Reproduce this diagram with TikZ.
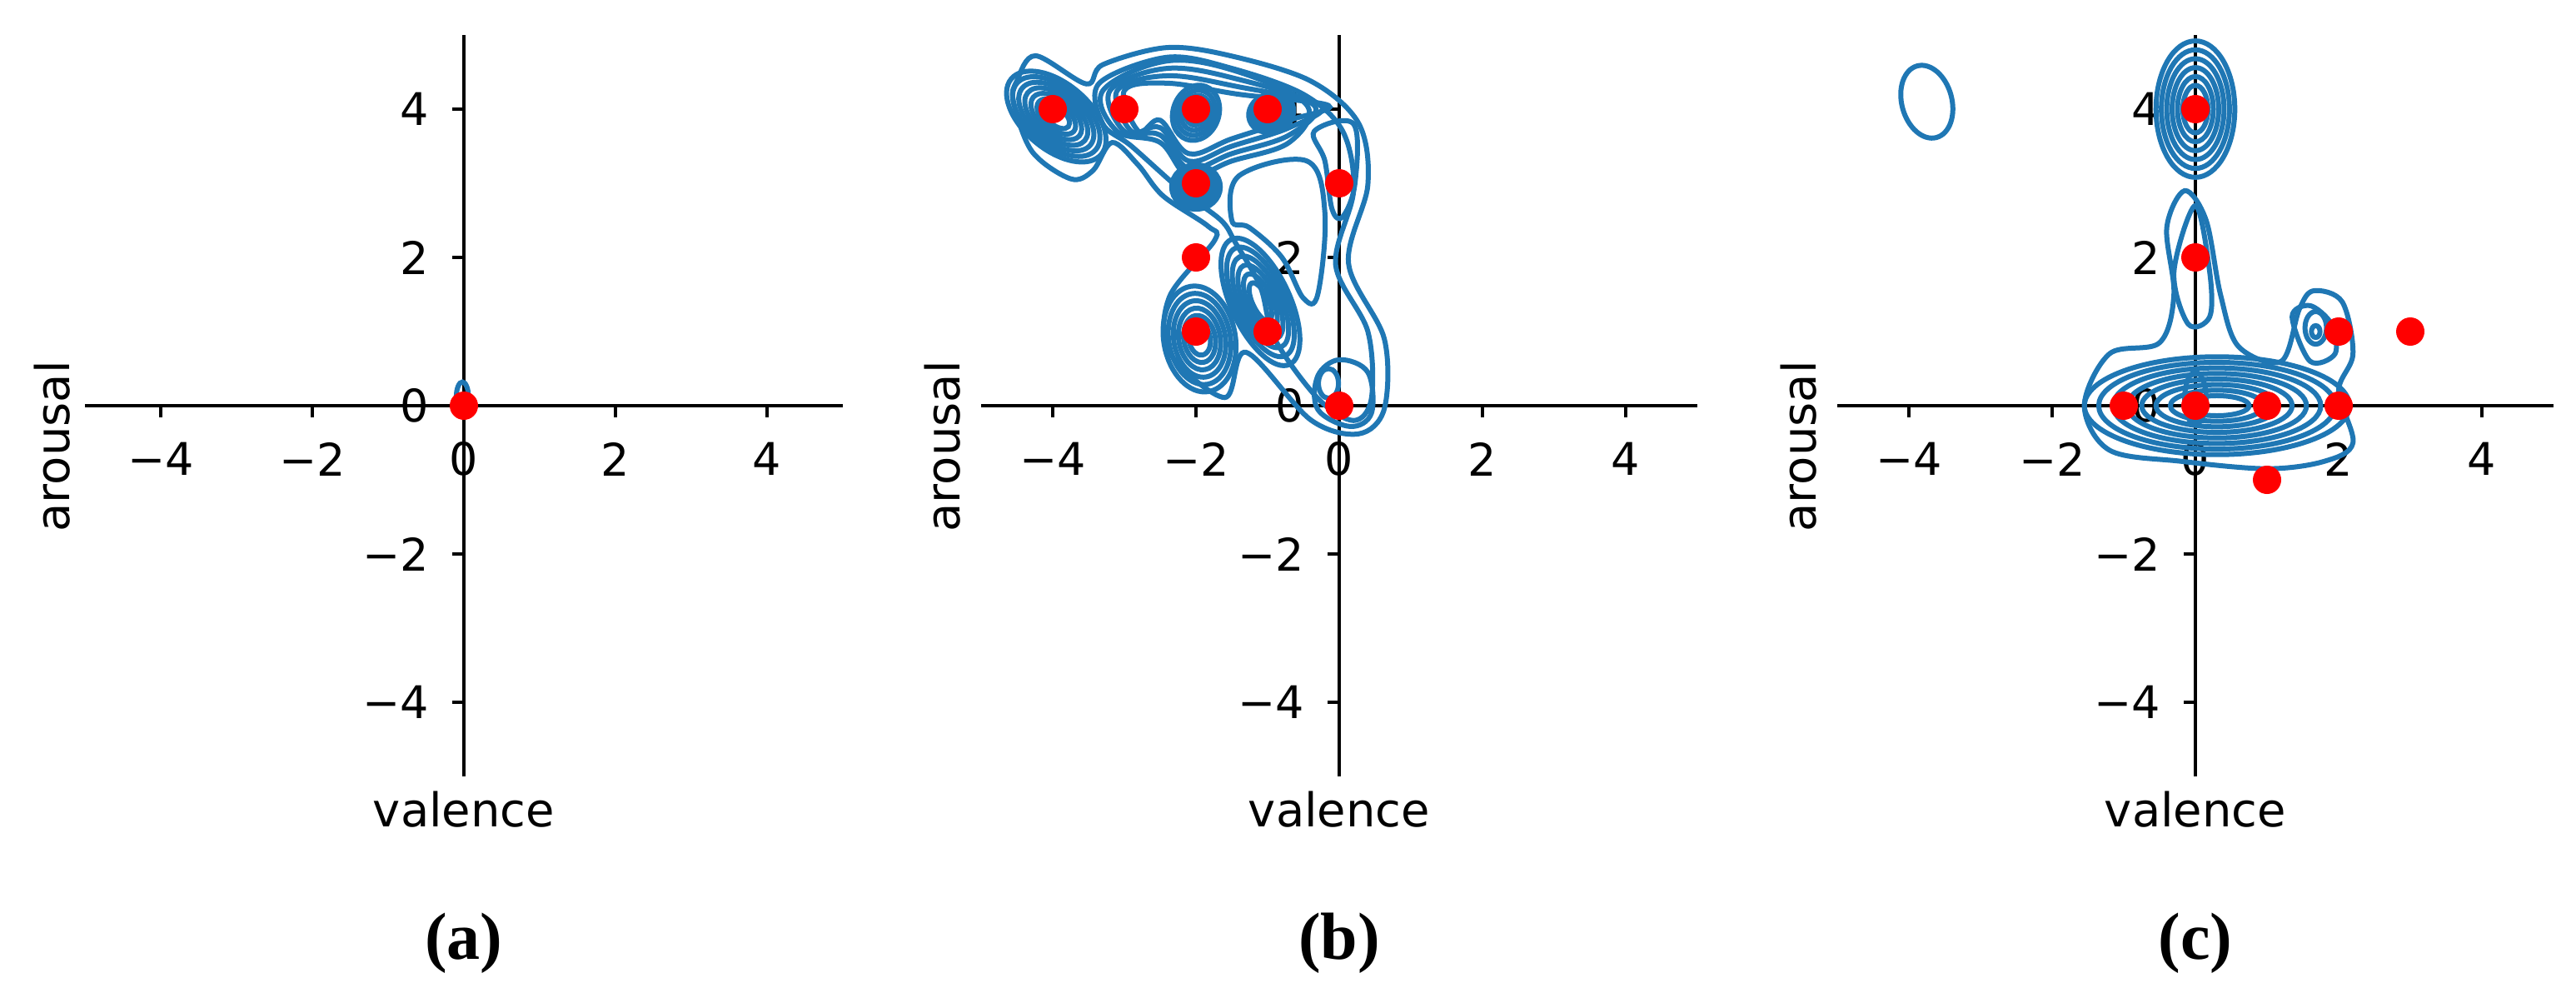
\documentclass[tikz,border=0pt]{standalone}
\usepackage{fontspec}
\setmainfont{DejaVu Sans}
\newfontfamily\capfont{Liberation Serif}
\begin{document}
\begin{tikzpicture}[x=22.75pt,y=22.25pt,
  ax/.style={line width=0.8pt,black},
  kde/.style={line width=1.5pt,draw={rgb,255:red,31;green,119;blue,180}},
  dot/.style={circle,fill=red,inner sep=0pt,minimum size=8.5pt},
  tk/.style={font=\fontsize{13.5}{16}\selectfont},
  lab/.style={font=\fontsize{14}{17}\selectfont},
  captext/.style={font=\capfont\bfseries\fontsize{20}{24}\selectfont}]
\useasboundingbox (-139.25pt,-173pt) rectangle (634pt,121.75pt);
\foreach \p/\ox/\xu/\cc/\ao in {A/0/22.75/a/123.5,B/262.75/21.5/b/119,C/519.75/21.5/c/119}{
\begin{scope}[xshift=\ox pt,x=\xu pt]
 \draw[ax] (-5,0) -- (5,0);
 \draw[ax] (0,-5) -- (0,5);
 \foreach \t/\s in {-4/−4,-2/−2,0/0,2/2,4/4}{
   \draw[ax] (\t,0) -- ++(0,-3.5pt);
   \node[tk] at ([yshift=-16pt]\t,0) {\s};
   \draw[ax] (0,\t) -- ++(-3.5pt,0);
   \node[tk,anchor=east] at ([xshift=-7pt]0,\t) {\s};
 }
 \node[lab] (val\p) at (0,-5.45) {valence};
 \node[lab,rotate=90] (aro\p) at ([xshift=-\ao pt]0,-0.55) {arousal};
 \node[captext] (cap\p) at (0,-7.25) {(\cc)};
\end{scope}}
% panel a
\draw[kde] (-0.02,0.12) ellipse (0.08 and 0.2);
\node[dot] (a0) at (0,0) {};
% panel b
\begin{scope}[xshift=262.75pt,x=21.5pt]
 \draw[kde] plot[smooth cycle,tension=0.55] coordinates {(-4.5,4.38)(-4.24,4.72)(-3.53,4.34)(-3.3,4.6)(-2.41,4.83)(-1.52,4.72)(-0.4,4.38)(0.27,3.81)(0.4,2.98)(0.13,1.92)(0.63,0.9)(0.63,-0.04)(0.27,-0.38)(-0.4,-0.19)(-1.3,0.72)(-1.6,0.11)(-2.37,0.72)(-2.37,1.47)(-1.74,2.23)(-1.83,2.42)(-2.46,2.83)(-2.81,3.25)(-3.17,3.55)(-3.44,3.17)(-3.75,3.06)(-4.29,3.43)(-4.55,4.11)};
 \draw[kde] plot[smooth cycle,tension=0.55] coordinates {(-3.35,4.35)(-2.4,4.7)(-1.5,4.55)(-0.5,4.2)(0.05,3.7)(0.2,2.9)(-0.05,1.9)(0.4,1.0)(0.45,0.1)(0.2,-0.2)(-0.3,0.1)(-0.9,0.9)(-1.1,1.6)(-1.45,2.2)(-1.65,2.5)(-2.2,2.9)(-2.9,3.5)(-3.3,3.8)};
 \draw[kde] plot[smooth cycle,tension=0.6] coordinates {(-1.4,3.1)(-0.45,3.3)(-0.2,2.6)(-0.3,1.5)(-0.5,1.45)(-0.8,2.0)(-1.25,2.4)(-1.5,2.5)};
 \draw[kde] plot[smooth cycle,tension=0.6] coordinates {(0.2,3.8)(0.22,3.0)(0.05,2.55)(-0.1,2.65)(-0.2,3.3)(-0.35,3.7)};
 \foreach \r in {1,...,7}
   \draw[kde,shift={(-3.95,3.9)},rotate=-40] (0,0) ellipse ({0.12+0.1*\r} and {0.06+0.055*\r});
 \foreach \s in {0,0.1,0.2,0.3}
   \draw[kde] plot[smooth cycle,tension=0.6] coordinates {(-3.3+\s,4.25)(-2.4,4.65-\s)(-1.4,4.5-\s)(-0.45+\s,4.05)(-0.7,3.55+\s)(-1.5,3.3+\s)(-2.1,3.1+\s)(-2.5,3.55+\s)(-3.1+\s,3.7)};
 \foreach \r in {1,...,4}{
   \draw[kde,shift={(-2,3.95)},rotate=-20] (0,0) ellipse ({0.08+0.06*\r} and {0.1+0.07*\r});
   \draw[kde,shift={(-0.95,3.95)},rotate=20] (0,0) ellipse ({0.08+0.06*\r} and {0.06+0.05*\r});
   \draw[kde] (-2,2.95) ellipse ({0.1+0.06*\r} and {0.1+0.05*\r});
 }
 \foreach \r in {1,...,6}{
   \draw[kde,shift={(-1.95,0.9)},rotate=10] (0,0) ellipse ({0.08+0.07*\r} and {0.12+0.1*\r});
   \draw[kde,shift={(-1.1,1.4)},rotate=25] (0,0) ellipse ({0.05+0.06*\r} and {0.15+0.13*\r});
 }
 \draw[kde] plot[smooth cycle,tension=0.6] coordinates {(-0.3,0.4)(0,0.62)(0.4,0.45)(0.45,-0.1)(0.15,-0.28)(-0.3,-0.05)};
 \draw[kde] (-0.15,0.3) ellipse (0.14 and 0.2);
 \foreach \x/\y [count=\i] in {-4/4,-3/4,-2/4,-1/4,-2/3,0/3,-2/2,-2/1,-1/1,0/0}
   \node[dot] (b\i) at (\x,\y) {};
\end{scope}
% panel c
\begin{scope}[xshift=519.75pt,x=21.5pt]
 \draw[kde,shift={(-3.75,4.1)},rotate=15] (0,0) ellipse (0.35 and 0.5);
 \foreach \r in {1,...,6}
   \draw[kde] (0,4) ellipse ({0.1+0.075*\r} and {0.2+0.12*\r});
 \draw[kde] plot[smooth cycle,tension=0.55] coordinates {(-0.15,2.9)(0.15,2.5)(0.35,1.5)(0.6,0.8)(1.2,0.6)(1.45,1.3)(1.65,1.55)(2.05,1.4)(2.2,0.7)(2.0,0.2)(2.2,-0.5)(1.8,-0.75)(1,-0.85)(-0.2,-0.75)(-1.2,-0.6)(-1.55,0)(-1.2,0.7)(-0.5,0.85)(-0.3,1.5)(-0.4,2.4)};
 \draw[kde] plot[smooth cycle,tension=0.55] coordinates {(0,2.7)(0.2,1.8)(0.2,1.2)(-0.1,1.1)(-0.3,1.8)};
 \draw[kde] plot[smooth cycle,tension=0.55] coordinates {(1.35,1.2)(1.6,1.35)(1.9,1.1)(1.95,0.7)(1.6,0.6)};
 \draw[kde] (1.68,1.05) ellipse (0.15 and 0.22);
 \draw[kde] (1.68,1.0) ellipse (0.06 and 0.08);
 \foreach \r in {1,...,8}
   \draw[kde] (0.3,0) ellipse ({0.25+0.2*\r} and {0.06+0.075*\r});
 \draw[kde] (0,0.1) ellipse (0.15 and 0.35);
 \foreach \x/\y [count=\i] in {0/4,0/2,-1/0,0/0,1/0,2/0,2/1,3/1,1/-1}
   \node[dot] (c\i) at (\x,\y) {};
\end{scope}
\end{tikzpicture}
\end{document}
